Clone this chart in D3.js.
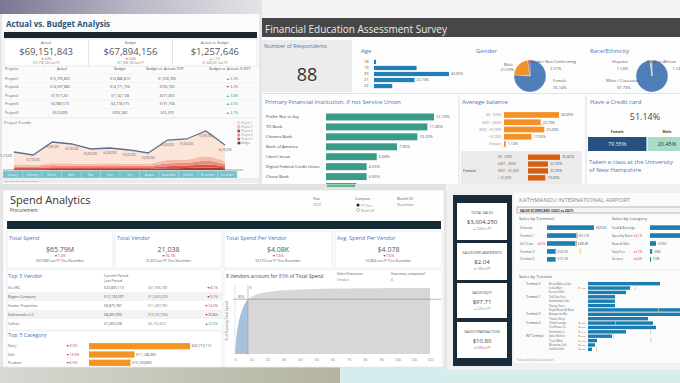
<!DOCTYPE html>
<html><head><meta charset="utf-8">
<script src="https://cdn.jsdelivr.net/npm/d3@7"></script>
<style>html,body{margin:0;padding:0;background:#e8e8e8;overflow:hidden}svg{display:block;font-family:"Open Sans","Noto Sans",sans-serif}</style>
</head><body><svg id="c" width="680" height="383"></svg>
<script>
// ---------------- DATA ----------------
// Panel A: Actual vs Budget
const abKpiLabels = ["Actual", "Budget", "Actual vs. Budget"];
const abKpiValues = ["$69,151,843", "$67,894,156", "$1,257,646"];
const abKpiDelta = ["▼ 4.2%", "▼ 5.6%", "▲ 1.1%"];
const abKpiSub = ["$72,196,145 last FY", "$71,906,185 last FY", "$1,243,631 last FY"];
const abProjects = ["Project1", "Project4", "Project2", "Project5", "Project3"];
const abActual = ["$15,793,802", "$14,007,880", "$7,917,261", "$4,989,573", "$523,893"];
const abBudget = ["$14,886,813", "$14,771,756", "$7,142,128", "$4,778,573", "$392,382"];
const abDiff = ["$1,026,990", "$736,760", "$271,833", "$191,758", "$25,259"];
const abPct = ["6.9%", "5.2%", "3.8%", "4.0%", "4.7%"];
const abUp = [true, false, true, true, true];
const trendMonths = ["January","February","March","April","May","June","July","August","September","October","November","December"];
const trendBudget = [3.27, 2.73, 5.09, 4.73, 3.82, 4.00, 3.64, 3.09, 5.45, 5.64, 7.09, 4.55];
const trendP1 = [2.30, 1.78, 3.74, 3.43, 2.57, 2.65, 2.39, 1.84, 3.55, 3.64, 4.49, 2.90];
const trendP2 = [0.30, 0.30, 0.40, 0.40, 0.35, 0.40, 0.35, 0.35, 0.60, 0.60, 0.80, 0.50];
const trendP4 = [0.25, 0.25, 0.35, 0.30, 0.30, 0.35, 0.30, 0.30, 0.50, 0.50, 0.70, 0.40];
const trendP5 = [0.20, 0.20, 0.30, 0.30, 0.30, 0.30, 0.30, 0.30, 0.40, 0.45, 0.55, 0.35];
const trendP3 = [0.15, 0.15, 0.20, 0.20, 0.20, 0.20, 0.20, 0.20, 0.30, 0.35, 0.45, 0.30];
const trendLegend = ["Project 1", "Project 2", "Project 3", "Project 4", "Project 5", "Budget"];

// Panel B: Financial Education Assessment Survey
const respondents = "88";
const ageCats = ["18", "19", "20", "21", "22"];
const ageVals = [1.14, 23.86, 42.05, 22.73, 10.23];
const ageShown = [false, false, true, true, false];
const genderCats = ["Female", "Male", "Gender Non Conforming"];
const genderVals = [76.14, 21.59, 2.27];
const raceCats = ["White / Caucasian", "Hispanic", "Black or African American"];
const raceVals = [97.73, 1.14, 1.14];
const instCats = ["Prefer Not to Say", "TD Bank", "Citizens Bank", "Bank of America", "I don't know", "Digital Federal Credit Union", "Chase Bank", "Other"];
const instVals = [12.10, 11.36, 10.23, 7.95, 5.68, 4.55, 4.55, 3.41];
const balCats = ["$0 - $250", "$251 - $500", "$501 - $1,000", "> $1,000", "Unsure"];
const balVals = [34.09, 22.73, 25.00, 17.05, 1.14];
const balFemCats = ["$0 - $250", "$251 - $500", "$501 - $1,000", "> $1,000"];
const balFemVals = [35.82, 22.39, 22.39, 19.40];
const creditTotal = "51.14%";
const creditCats = ["Female", "Male"];
const creditVals = [79.55, 20.45];

// Panel C: Spend Analytics
const spendKpiLabels = ["Total Spend", "Total Vendor", "Total Spend Per Vendor", "Avg.  Spend Per Vendor"];
const spendKpiValues = ["$65.79M", "21,038", "$4.08K", "$4.078"];
const spendKpiDelta = ["▼7.4%", "▼10.1%", "▼7.6%", "▼7.6%"];
const spendKpiSub = ["$60.93M Last FY Thru November", "23,400 Last FY Thru November", "$3,570 Last FY Thru November", "$3,868 Last FY Thru November"];
const vendorNames = ["Vra INC", "Rogers Company", "Hunter Properties", "Kathmandu LLC", "Cellcas"];
const vendorLast = ["$23,895,113", "$12,194,597", "$9,875,787", "$8,405,993", "$7,405,528"];
const vendorCurrent = ["$21,956,781", "$12,833,200", "$11,437,781", "$13,357,356", "$5,752,412"];
const vendorChange = ["▼8.1%", "▼5.1%", "▼14.2%", "▼35.8%", "▲22.3%"];
const categoryNames = ["Dairy", "Deli", "Produce"];
const categoryChange = ["▼9.0%", "▼13.0%", "▼6.0%"];
const categorySpend = [24713112, 11148465, 10163830];
const paretoVendors = [0, 1, 2, 3, 4, 5, 6, 7, 8, 10, 12, 15, 20, 25, 30, 40, 50, 60, 70, 80, 90, 100, 110, 120];
const paretoPct = [0, 30, 45, 56, 64, 71, 76, 80, 83, 86.5, 89, 91.5, 94, 95.5, 96.6, 97.8, 98.6, 99.1, 99.4, 99.6, 99.8, 99.9, 99.95, 100];
const paretoTicks = [0, 10, 20, 30, 40, 50, 60, 70, 80, 90, 100, 110, 120];
const paretoCut = 8;

// Panel D: Kathmandu International Airport
const airKpiLabels = ["TOTAL SALES", "SALES/ENPLANEMENTS", "SALES/SQFT", "SALES/TRANSACTION"];
const airKpiValues = ["$3,004,250", "$2.04", "$97.71", "$10.80"];
const airKpiSub = ["▲ 7.54%  vs PY", "▼ 1.8%  vs PY", "▲ 5.2%  vs PY", "▼ 3.0%  vs PY"];
const terminalCats = ["Domestic", "Terminal 1", "Int'l Term.", "Terminal 3", "Terminal 4"];
const terminalVals = [823.6, 512.7, 496.8, 142.5, 151.3];
const terminalPrior = [null, 520, 505, 148, null];
const terminalPct = [null, null, "▼8.5%", null, null];
const categoryAir = ["Food & Beverage", "Specialty Retail", "News & Gifts", "Duty Free", "Services"];
const categoryAirVals = [1210, 980, 105, 38, 18];
const categoryAirPct = [null, "▼6.1%", null, "▼2.7%", "▼4.4%"];
const tenantNames = ["Bread Bakery Cafe", "Lotus Mart", "Everest Gifts", "Yak Duty Free", "Kathmandu Cafe", "Sherpa Store", "Nepal Books & News", "Annapurna Bar", "Thamel Shop", "Global Lounge", "Tea House Co.", "Pashmina Co.", "Spice Kitchen", "Travel Mart", "Mountain Cafe", "Gurkha Gifts"];
const tenantVals = [288, 168, 152, 108, 108, 108, 420, 410, 240, 260, 272, 152, 96, 36, 28, 16];
const tenantPrior = [null, 188, null, null, null, null, 280, null, null, 108, null, 248, 100, 250, null, 32];
const tenantPct = [null, "▼1.7%", null, null, null, null, null, null, null, "▼2.9%", "▼3.0%", "▼1.1%", "▼2.5%", "▼4.0%", "▼6.2%", "▼3.3%"];
const tenantGroups = ["Terminal 2", "Terminal 1", "Terminal 3", "Terminal 4", "INT Terminal"];
const tenantGroupStart = [0, 3, 7, 9, 12];

// ---------------- HELPERS ----------------
const svg = d3.select("#c");
function T(g, x, y, s, size, fill, anchor, weight) {
  return g.append("text").attr("x", x).attr("y", y).attr("font-size", size)
    .attr("fill", fill || "#555").attr("text-anchor", anchor || "start")
    .attr("font-weight", weight || 400).text(s);
}
function R(g, x, y, w, h, fill, stroke, sw) {
  const r = g.append("rect").attr("x", x).attr("y", y).attr("width", w).attr("height", h).attr("fill", fill);
  if (stroke) r.attr("stroke", stroke).attr("stroke-width", sw || 0.6);
  return r;
}
const RED = "#c0304a", GREEN = "#3a9a5c", TBLUE = "#4a76c4";
const defs = svg.append("defs");
function clip(id, x, y, w, h) {
  defs.append("clipPath").attr("id", id).append("rect").attr("x", x).attr("y", y).attr("width", w).attr("height", h);
}

// ---------------- BACKGROUND ----------------
const lg = defs.append("linearGradient").attr("id", "topg");
lg.append("stop").attr("offset", "0%").attr("stop-color", "#7a7892");
lg.append("stop").attr("offset", "50%").attr("stop-color", "#b8b7c6");
lg.append("stop").attr("offset", "100%").attr("stop-color", "#e4e4e8");
const bg2 = defs.append("linearGradient").attr("id", "botg");
bg2.append("stop").attr("offset", "0%").attr("stop-color", "#d8d8d4");
bg2.append("stop").attr("offset", "100%").attr("stop-color", "#b3b39e");
R(svg, 0, 0, 680, 383, "#e6e6e6");
R(svg, 0, 0, 262, 14, "url(#topg)");
R(svg, 262, 0, 418, 18, "#f3f3f3");
R(svg, 0, 367, 340, 16, "url(#botg)");
R(svg, 340, 367, 340, 16, "#d7eced");

// ---------------- PANEL A ----------------
const A = svg.append("g");
R(A, 2, 14, 257, 170, "#fbfbfb");
T(A, 6, 27, "Actual vs. Budget Analysis", 8, "#2c5577", "start", 700);
R(A, 4, 32, 253, 6, "#1b2832");
const kx = d3.scaleBand().domain(abKpiLabels).range([4, 257]);
abKpiLabels.forEach((k, i) => {
  const x0 = kx(k), cx = x0 + kx.bandwidth() / 2;
  R(A, x0, 39, kx.bandwidth(), 27, "#fff", "#ddd");
  T(A, cx, 44, k, 3.5, "#666", "middle");
  T(A, cx, 55, abKpiValues[i], 9.5, "#555", "middle");
  T(A, cx, 59.5, abKpiDelta[i], 3, i === 2 ? GREEN : RED, "middle");
  T(A, cx, 63.5, abKpiSub[i], 3, "#777", "middle");
});
const thy = 70;
T(A, 5, thy, "Projects", 3.5, "#555");
T(A, 62, thy, "Actual", 3.5, "#555", "middle");
T(A, 120, thy, "Budget", 3.5, "#555", "middle");
T(A, 165, thy, "Budget vs. Actuals DIFF", 3.5, "#555", "middle");
T(A, 230, thy, "Budget vs. Actuals % DIFF", 3.5, "#555", "middle");
const ry = d3.scaleBand().domain(abProjects).range([74, 117]);
abProjects.forEach((p, i) => {
  const y = ry(p) + ry.bandwidth() / 2 + 1.3;
  A.append("line").attr("x1", 4).attr("x2", 257).attr("y1", ry(p)).attr("y2", ry(p)).attr("stroke", "#eee").attr("stroke-width", 0.5);
  T(A, 5, y, p, 3.5, "#555");
  T(A, 60, y, abActual[i], 3.5, "#555", "middle");
  T(A, 120, y, abBudget[i], 3.5, "#555", "middle");
  T(A, 167, y, abDiff[i], 3.5, "#555", "middle");
  T(A, 232, y, (abUp[i] ? "▲ " : "▼ ") + abPct[i], 3.5, abUp[i] ? GREEN : RED, "middle");
});
A.append("line").attr("x1", 4).attr("x2", 257).attr("y1", 118).attr("y2", 118).attr("stroke", "#ddd").attr("stroke-width", 0.6);
T(A, 4, 124, "Project Trends", 4, "#3b6f86");
const ax = d3.scalePoint().domain(trendMonths).range([14, 225]);
const ay = d3.scaleLinear().domain([0, 8]).range([170, 126]);
const trendRows = trendMonths.map((m, i) => ({ m, "Project 1": trendP1[i], "Project 2": trendP2[i], "Project 4": trendP4[i], "Project 5": trendP5[i], "Project 3": trendP3[i] }));
const stackKeys = ["Project 3", "Project 5", "Project 4", "Project 2", "Project 1"];
const stackCol = { "Project 3": "#a93531", "Project 5": "#d5564b", "Project 4": "#ea8b7b", "Project 2": "#f5bba8", "Project 1": "#fde4d9" };
const stacked = d3.stack().keys(stackKeys)(trendRows);
const area = d3.area().x(d => ax(d.data.m)).y0(d => ay(d[0])).y1(d => ay(d[1])).curve(d3.curveMonotoneX);
A.selectAll(".ar").data(stacked).join("path").attr("d", area).attr("fill", d => stackCol[d.key]);
A.append("line").attr("x1", 3).attr("x2", 243).attr("y1", ay(0)).attr("y2", ay(0)).attr("stroke", "#666").attr("stroke-width", 0.6);
const line = d3.line().x((d, i) => ax(trendMonths[i])).y(d => ay(d));
A.append("path").attr("d", line(trendBudget)).attr("fill", "none").attr("stroke", "#5d6e8e").attr("stroke-width", 1.3);
const fmt = d3.format("$,.0f");
trendBudget.forEach((v, i) => {
  const x = ax(trendMonths[i]);
  if (i === 0) T(A, x - 2, ay(v) + 5, fmt(v * 1e6), 2.6, "#666", "end");
  else T(A, x, ay(v) + 6, fmt(v * 1e6), 2.6, "#666", "middle");
});
const mb = d3.scaleBand().domain(trendMonths).range([3, 237]);
trendMonths.forEach(m => {
  R(A, mb(m), 171, mb.bandwidth(), 7, "#72c2cd", "#a9dde3", 0.5);
  T(A, mb(m) + mb.bandwidth() / 2, 175.7, m, 2.8, "#e8f7f9", "middle");
});
R(A, 2, 178, 257, 5, "#ececec");
T(A, 4, 181.5, "Data source: Sample Projects", 2.5, "#999");
const lgY = d3.scalePoint().domain(trendLegend).range([124, 144]);
const legCol = ["#fde4d9", "#f5bba8", "#a93531", "#ea8b7b", "#d5564b"];
trendLegend.forEach((k, i) => {
  const y = lgY(k);
  if (k === "Budget") A.append("circle").attr("cx", 239).attr("cy", y - 1).attr("r", 1.6).attr("fill", "#2c4a80");
  else R(A, 237.5, y - 2.3, 2.5, 2.5, legCol[i], "#e8b4a5", 0.3);
  T(A, 241.5, y, k, 2.6, "#888");
});

// ---------------- PANEL B ----------------
const B = svg.append("g");
R(B, 262, 18, 418, 172, "#fdfdfd");
R(B, 262, 18, 418, 19, "#474747");
T(B, 265, 32.5, "Financial Education Assessment Survey", 10, "#ececec");
R(B, 262, 40, 90, 52, "#ececec");
T(B, 264, 48, "Number of Respondents", 5.5, TBLUE);
T(B, 307, 81, respondents, 18, "#333", "middle");
// Age
T(B, 361, 53, "Age", 6, TBLUE);
const ageY = d3.scaleBand().domain(ageCats).range([58, 90]).padding(0.3);
const ageX = d3.scaleLinear().domain([0, 42.05]).range([374, 449]);
ageCats.forEach((c, i) => {
  const y = ageY(c);
  T(B, 364, y + ageY.bandwidth() / 2 + 1.4, c, 4, "#555");
  R(B, ageX(0), y, ageX(ageVals[i]) - ageX(0), ageY.bandwidth(), "#1f7fb6");
  if (ageShown[i]) T(B, ageX(ageVals[i]) + 2, y + ageY.bandwidth() / 2 + 1.3, ageVals[i].toFixed(2) + "%", 3.6, "#555");
});
// Gender pie
const pie = d3.pie().sort(null).value(d => d);
const arc = d3.arc().innerRadius(0).outerRadius(16);
T(B, 476, 53, "Gender", 6, TBLUE);
const gCols = ["#4e7fb8", "#f0912c", "#d9473f"];
const gp = B.append("g").attr("transform", "translate(530,76)");
gp.selectAll("path").data(pie(genderVals)).join("path").attr("d", arc).attr("fill", (d, i) => gCols[i]).attr("stroke", "#fff").attr("stroke-width", 0.3);
T(B, 513, 66, "Male", 4, "#555", "end");
T(B, 514, 71, genderVals[1].toFixed(2) + "%", 4, "#555", "end");
T(B, 530, 63, "Gender Non Conforming", 4, "#555");
T(B, 550, 70, genderVals[2].toFixed(2) + "%", 4, "#555");
T(B, 553, 82, "Female", 4, "#555");
T(B, 553, 89, genderVals[0].toFixed(2) + "%", 4, "#555");
// Race pie
T(B, 590, 53, "Race/Ethnicity", 6, TBLUE);
const rCols = ["#4e7fb8", "#f0912c", "#8aa87a"];
const rp = B.append("g").attr("transform", "translate(652,76)");
rp.selectAll("path").data(pie(raceVals)).join("path").attr("d", arc).attr("fill", (d, i) => rCols[i]).attr("stroke", "#fff").attr("stroke-width", 0.3);
T(B, 628, 63, "Hispanic", 4, "#555", "end");
T(B, 628, 70, raceVals[1].toFixed(2) + "%", 4, "#555", "end");
T(B, 647, 63, "Black or African", 4, "#555");
T(B, 672, 70, raceVals[2].toFixed(2), 4, "#555");
T(B, 606, 82, "White / Caucasian", 4, "#555");
T(B, 617, 89, raceVals[0].toFixed(2) + "%", 4, "#555");
B.append("line").attr("x1", 262).attr("x2", 680).attr("y1", 93.5).attr("y2", 93.5).attr("stroke", "#ddd").attr("stroke-width", 0.8);
// Primary financial institution
clip("cpB", 262, 94, 418, 96);
const B2 = B.append("g").attr("clip-path", "url(#cpB)");
T(B2, 265, 104, "Primary Financial Institution, if not Service Union", 6, TBLUE);
const instY = d3.scaleBand().domain(instCats).range([110.5, 193]).padding(0.3);
const instX = d3.scaleLinear().domain([0, 12.10]).range([326, 434]);
instCats.forEach((c, i) => {
  const y = instY(c), m = y + instY.bandwidth() / 2 + 1.5;
  T(B2, 266, m, c, 4.2, "#444");
  R(B2, instX(0), y, instX(instVals[i]) - instX(0), instY.bandwidth(), "#3a9b89");
  T(B2, instX(instVals[i]) + 2, m, instVals[i].toFixed(2) + "%", 4, "#555");
});
B2.append("line").attr("x1", 459).attr("x2", 459).attr("y1", 95).attr("y2", 190).attr("stroke", "#ddd").attr("stroke-width", 1);
// Average balance
T(B2, 462, 104, "Average balance", 6, TBLUE);
const balY = d3.scaleBand().domain(balCats).range([110.5, 148.5]).padding(0.22);
const balX = d3.scaleLinear().domain([0, 34.09]).range([504, 559]);
balCats.forEach((c, i) => {
  const y = balY(c), m = y + balY.bandwidth() / 2 + 1.3;
  T(B2, 501, m, c, 3.5, "#888", "end");
  R(B2, balX(0), y, balX(balVals[i]) - balX(0), balY.bandwidth(), "#f39127");
  T(B2, balX(balVals[i]) + 2, m, balVals[i].toFixed(2) + "%", 3.6, "#555");
});
R(B2, 461, 151, 121, 36, "#ebebeb");
T(B2, 463, 172, "Female", 3.8, "#444");
const bfY = d3.scaleBand().domain(balFemCats).range([153, 182]).padding(0.22);
const bfX = d3.scaleLinear().domain([0, 35.82]).range([528, 560]);
balFemCats.forEach((c, i) => {
  const y = bfY(c), m = y + bfY.bandwidth() / 2 + 1.3;
  T(B2, 498, m, c, 3.3, "#555");
  R(B2, bfX(0), y, bfX(balFemVals[i]) - bfX(0), bfY.bandwidth(), "#d4600f");
  T(B2, bfX(balFemVals[i]) + 2, m, balFemVals[i].toFixed(2) + "%", 3.6, "#555");
});
B2.append("line").attr("x1", 586).attr("x2", 586).attr("y1", 95).attr("y2", 190).attr("stroke", "#ddd").attr("stroke-width", 1);
// Credit card
T(B2, 590, 104, "Have a Credit card", 6, TBLUE);
T(B2, 645, 120, creditTotal, 9, "#444", "middle");
const ccX = d3.scaleBand().domain(creditCats).range([588, 706]).paddingInner(0.02);
const ccCol = d3.scaleLinear().domain([20, 80]).range(["#a9dcc9", "#23507f"]);
creditCats.forEach((c, i) => {
  const x = ccX(c), cx = Math.min(x + ccX.bandwidth() / 2, 667);
  T(B2, Math.min(cx, 670), 133, c, 3.6, "#444", "middle", 700);
  R(B2, x, 137, ccX.bandwidth(), 14, ccCol(creditVals[i]));
  T(B2, cx, 146, creditVals[i].toFixed(2) + "%", 5.5, i === 0 ? "#e8eef6" : "#333", "middle");
});
T(B2, 589, 164, "Taken a class at the University", 6, TBLUE);
T(B2, 589, 172, "of New Hampshire", 6, TBLUE);

// ---------------- PANEL C ----------------
const C = svg.append("g");
R(C, 0, 184, 446, 6, "#e2e2e2");
R(C, 3, 190, 441, 177, "#fdfdfd", "#e0e0e0");
R(C, 327, 184.5, 28, 2.5, "#5fb58f");
T(C, 10, 204, "Spend Analytics", 11, "#333");
T(C, 10, 212, "Procurement", 4.5, "#444");
T(C, 313, 200, "Year", 3.5, "#555");
T(C, 313, 206, "2020", 3.5, "#888");
T(C, 355, 200, "Compare", 3.5, "#555");
C.append("circle").attr("cx", 358).attr("cy", 205).attr("r", 1.6).attr("fill", "#222");
T(C, 361, 206.5, "FY Thru", 3, "#888");
C.append("circle").attr("cx", 358).attr("cy", 210).attr("r", 1.6).attr("fill", "#fff").attr("stroke", "#777").attr("stroke-width", 0.4);
T(C, 361, 211.5, "Month Of", 3, "#888");
T(C, 397, 200, "Month Of", 3.5, "#555");
T(C, 397, 206, "November", 3.5, "#888");
R(C, 7, 221, 434, 8, "#172b35");
const skx = [[7, 113], [115, 222], [224, 332], [335, 442]];
spendKpiLabels.forEach((k, i) => {
  const [x0, x1] = skx[i], cx = (x0 + x1) / 2;
  R(C, x0, 231, x1 - x0, 37, "#fff", "#e2e2e2");
  T(C, x0 + 2, 240, k, 5.5, "#3a78c6");
  T(C, cx, 252, spendKpiValues[i], 7, "#555", "middle");
  T(C, cx, 257, spendKpiDelta[i], 3.5, RED, "middle");
  T(C, cx, 261.5, spendKpiSub[i], 3.2, "#666", "middle");
});
R(C, 7, 270, 215, 60, "#fff", "#e6e6e6");
T(C, 8, 278, "Top 5 Vendor", 5.5, "#3a78c6");
T(C, 104, 277, "Current Period", 3.5, "#555");
T(C, 104, 282, "Last Period", 3.5, "#555");
const vy = d3.scaleBand().domain(vendorNames).range([283, 328]);
vendorNames.forEach((v, i) => {
  const y = vy(v), m = y + vy.bandwidth() / 2 + 1.3;
  if (i % 2 === 1) R(C, 7, y, 215, vy.bandwidth(), "#f3f3f3");
  T(C, 8, m, v, 3.5, "#555");
  T(C, 104, m, vendorLast[i], 3.5, "#555");
  T(C, 148, m, vendorCurrent[i], 3.5, "#777");
  T(C, 218, m, vendorChange[i], 3.5, vendorChange[i][0] === "▲" ? GREEN : RED, "end");
});
R(C, 7, 331, 215, 36, "#fff", "#e6e6e6");
T(C, 8, 337, "Top 5 Category", 5.5, "#3a78c6");
const cy = d3.scaleBand().domain(categoryNames).range([341, 368]).padding(0.25);
const cxs = d3.scaleLinear().domain([0, 24713112]).range([89, 190]);
categoryNames.forEach((c, i) => {
  const y = cy(c), m = y + cy.bandwidth() / 2 + 1.3;
  T(C, 8, m, c, 3.5, "#555");
  T(C, 66, m, categoryChange[i], 3.5, RED);
  R(C, cxs(0), y, cxs(categorySpend[i]) - cxs(0), cy.bandwidth(), "#f39423");
  T(C, cxs(categorySpend[i]) + 1.5, m, fmt(categorySpend[i]), 3.5, "#555");
});
// Pareto
R(C, 224, 270, 218, 97, "#fff", "#e6e6e6");
const p1 = T(C, 226, 277.5, "", 5, "#444");
p1.append("tspan").text(paretoCut + " Vendors account for ");
p1.append("tspan").attr("fill", "#3a78c6").text("83%");
p1.append("tspan").text(" of Total Spend");
T(C, 337, 275, "Select Dimension", 3.2, "#555");
T(C, 337, 281, "Vendors", 3.2, "#888");
T(C, 391, 275, "How many companies?", 3.2, "#555");
T(C, 391, 281, String(paretoCut), 3.2, "#888");
const px = d3.scaleLinear().domain([0, 120]).range([235, 430]);
const py = d3.scaleLinear().domain([0, 100]).range([354, 288]);
const paretoData = paretoVendors.map((v, i) => ({ v, p: paretoPct[i] }));
const pArea = d3.area().x(d => px(d.v)).y0(py(0)).y1(d => py(d.p)).curve(d3.curveMonotoneX);
C.append("path").attr("d", pArea(paretoData.filter(d => d.v >= paretoCut))).attr("fill", "#d7d6d9");
C.append("path").attr("d", pArea(paretoData.filter(d => d.v <= paretoCut))).attr("fill", "#a9c1da");
C.append("line").attr("x1", px(0)).attr("x2", px(0)).attr("y1", 285).attr("y2", 355).attr("stroke", "#ccc").attr("stroke-width", 0.5);
C.append("line").attr("x1", 233).attr("x2", 441).attr("y1", py(83)).attr("y2", py(83)).attr("stroke", "#888").attr("stroke-width", 0.6);
C.append("line").attr("x1", px(paretoCut)).attr("x2", px(paretoCut)).attr("y1", 285).attr("y2", 355).attr("stroke", "#999").attr("stroke-width", 0.6);
T(C, 238, py(83) - 1, "83%", 3.2, "#666");
T(C, px(paretoCut) + 1.5, 289, String(paretoCut), 3, "#666");
const pAxis = C.append("g").attr("transform", "translate(0,356)").call(d3.axisBottom(px).tickValues(paretoTicks).tickSize(0).tickPadding(3));
pAxis.select(".domain").remove();
pAxis.selectAll("text").attr("font-size", 3.5).attr("fill", "#888").attr("font-family", null);
T(C, 0, 0, "% of Running Total Spend", 3.3, "#666", "middle").attr("transform", "translate(228,321) rotate(-90)");

// ---------------- PANEL D ----------------
const D = svg.append("g");
R(D, 447, 184, 233, 186, "#f1f1f1");
R(D, 514, 193, 166, 170, "#fbfbfb");
R(D, 453, 195, 59, 171, "#1a2c3a");
const kyD = [[203, 240], [243, 280], [283, 318], [322, 358]];
airKpiLabels.forEach((k, i) => {
  const [y0, y1] = kyD[i];
  R(D, 457, y0, 50, y1 - y0, "#fff");
  T(D, 482, y0 + 11, k, 3.6, "#555", "middle");
  T(D, 482, y0 + 21, airKpiValues[i], 6, "#444", "middle");
  T(D, 482, y0 + 26.5, airKpiSub[i], 2.7, airKpiSub[i][0] === "▲" ? GREEN : RED, "middle");
});
T(D, 519, 202, "KATHMANDU INTERNATIONAL AIRPORT", 6, "#8a8a8a");
R(D, 517, 207, 170, 6, "#f4f4f4", "#777", 0.5);
T(D, 520, 211.5, "SALES SCORECARD (2022 vs 2021)", 3.3, "#333", "start", 700);
T(D, 519, 220, "Sales by Terminal", 4.3, "#555");
T(D, 612, 220, "Sales by Category", 4.3, "#555");
const tY = d3.scaleBand().domain(terminalCats).range([222, 265]).padding(0.42);
const tX = d3.scaleLinear().domain([0, 1000]).range([547, 604]);
const BLUE_D = "#1b7db0";
terminalCats.forEach((c, i) => {
  const y = tY(c), m = y + tY.bandwidth() / 2 + 1.1;
  T(D, 520, m, c, 2.9, "#555");
  if (terminalPct[i]) T(D, 537, m, terminalPct[i], 2.6, RED);
  R(D, tX(0), y, tX(terminalVals[i]) - tX(0), tY.bandwidth(), BLUE_D);
  if (terminalPrior[i]) R(D, tX(terminalPrior[i]), y - 0.5, 0.8, tY.bandwidth() + 1, "#888");
  T(D, Math.max(tX(terminalVals[i]), terminalPrior[i] ? tX(terminalPrior[i]) : 0) + 2, m, "$" + terminalVals[i].toFixed(1) + "K", 2.8, "#555");
});
R(D, tX(575), tY("Terminal 3") - 1, 0.8, tY.bandwidth() + 2, "#e8c76a");
const cY = d3.scaleBand().domain(categoryAir).range([222, 265]).padding(0.42);
const cX = d3.scaleLinear().domain([0, 1000]).range([650, 707]);
categoryAir.forEach((c, i) => {
  const y = cY(c), m = y + cY.bandwidth() / 2 + 1.1;
  T(D, 612, m, c, 2.9, "#555");
  if (categoryAirPct[i]) T(D, 633, m, categoryAirPct[i], 2.8, RED);
  R(D, cX(0), y, cX(categoryAirVals[i]) - cX(0), cY.bandwidth(), BLUE_D);
  if (categoryAirVals[i] < 500) T(D, cX(categoryAirVals[i]) + 2, m, "$" + categoryAirVals[i].toFixed(0) + "K", 2.8, "#555");
});
D.append("line").attr("x1", 517).attr("x2", 680).attr("y1", 270).attr("y2", 270).attr("stroke", "#e4e4e4").attr("stroke-width", 0.6);
T(D, 519, 278, "Sales by Tenants", 4.3, "#555");
const tnY = d3.scaleBand().domain(tenantNames).range([281, 352]).padding(0.22);
const tnX = d3.scaleLinear().domain([0, 400]).range([588, 688]);
tenantNames.forEach((c, i) => {
  const y = tnY(c), m = y + tnY.bandwidth() / 2 + 1;
  T(D, 549, m, c, 2.6, "#666");
  if (tenantPct[i]) T(D, 578, m, tenantPct[i], 2.5, RED);
  R(D, tnX(0), y, tnX(tenantVals[i]) - tnX(0), tnY.bandwidth(), BLUE_D);
  if (tenantPrior[i]) R(D, tnX(tenantPrior[i]), y - 0.6, 0.7, tnY.bandwidth() + 1.2, "#e2c26a");
});
tenantGroups.forEach((g, i) => {
  const y = tnY(tenantNames[tenantGroupStart[i]]);
  T(D, 526, y + tnY.bandwidth() / 2 + 1, g, 2.9, "#444");
});
T(D, 517, 361, "Powered by Data Visualization", 2.6, "#999");
</script></body></html>
